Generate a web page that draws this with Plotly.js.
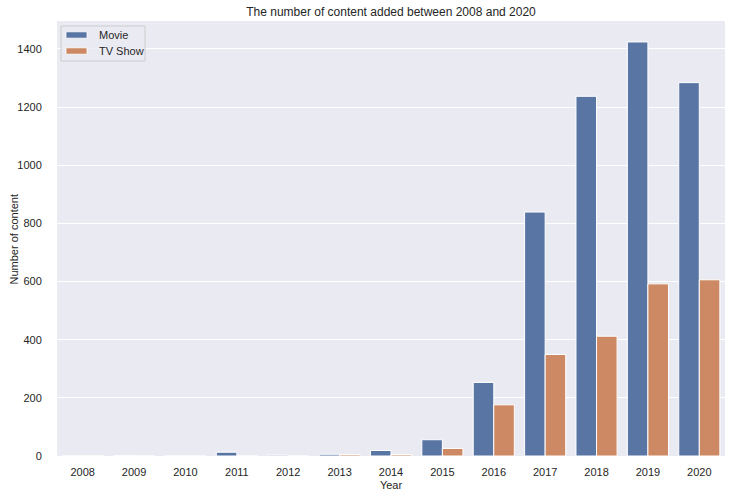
<!DOCTYPE html>
<html>
<head>
<meta charset="utf-8">
<script src="https://cdn.plot.ly/plotly-3.0.1.min.js"></script>
<style>html,body{margin:0;padding:0;background:#fff;}</style>
</head>
<body>
<div id="chart" style="width:732px;height:496px;"></div>
<script>
const years = ["2008","2009","2010","2011","2012","2013","2014","2015","2016","2017","2018","2019","2020"];
const movieCounts = [1, 2, 1, 13, 3, 6, 19, 56, 253, 839, 1237, 1424, 1284];
const tvCounts = [1, 0, 0, 0, 0, 5, 5, 26, 176, 349, 412, 592, 606];
const yTicks = [0, 200, 400, 600, 800, 1000, 1200, 1400];
const seriesNames = ["Movie", "TV Show"];
const seriesColors = ["#5975A4", "#CC8963"];

const font = "Liberation Sans, Arial, sans-serif";
const W = 732, H = 496;
const M = {l: 57, r: 7, t: 21, b: 40};
const PW = W - M.l - M.r, PH = H - M.t - M.b;
const fx = px => (px - M.l) / PW;
const fy = py => 1 - (py - M.t) / PH;

const traces = [
  {type: "bar", name: seriesNames[0], x: years, y: movieCounts,
   marker: {color: seriesColors[0], line: {color: "#ffffff", width: 1}}},
  {type: "bar", name: seriesNames[1], x: years, y: tvCounts,
   marker: {color: seriesColors[1], line: {color: "#ffffff", width: 1}}}
];

// custom legend (matplotlib-style rectangular patches)
const shapes = [
  {type: "rect", xref: "paper", yref: "paper", x0: fx(61), x1: fx(145), y0: fy(26), y1: fy(61),
   fillcolor: "rgba(234,234,242,0.8)", line: {color: "#CCCCCC", width: 1}, layer: "above"}
];
const annotations = [
  {xref: "paper", yref: "paper", x: fx(13), y: 0.5, xanchor: "center", yanchor: "middle",
   textangle: -90, text: "Number of content", showarrow: false,
   font: {family: font, size: 11, color: "#262626"}}
];
seriesNames.forEach((name, i) => {
  const cy = 35 + i * 16;
  shapes.push({type: "rect", xref: "paper", yref: "paper",
    x0: fx(66), x1: fx(87), y0: fy(cy - 3.2), y1: fy(cy + 3.2),
    fillcolor: seriesColors[i], line: {color: "#ffffff", width: 0.8}, layer: "above"});
  annotations.push({xref: "paper", yref: "paper", x: fx(97), y: fy(cy), xanchor: "left", yanchor: "middle",
    text: name, showarrow: false, font: {family: font, size: 11, color: "#262626"}});
});

const layout = {
  width: W, height: H,
  margin: M,
  paper_bgcolor: "#ffffff",
  plot_bgcolor: "#EAEAF2",
  font: {family: font, size: 11, color: "#262626"},
  title: {text: "The number of content added between 2008 and 2020",
          font: {family: font, size: 12, color: "#262626"},
          x: 0.5, xanchor: "center", xref: "paper", y: 0.976, yanchor: "middle"},
  barmode: "group", bargap: 0.2, bargroupgap: 0,
  xaxis: {type: "category", showgrid: false, zeroline: false,
          ticks: "outside", ticklen: 6, tickcolor: "rgba(0,0,0,0)",
          tickfont: {size: 11, color: "#262626"}, showline: false,
          title: {text: "Year", font: {size: 11, color: "#262626"}, standoff: 4}},
  yaxis: {range: [0, 1496], tickvals: yTicks, showgrid: true, gridcolor: "#ffffff",
          gridwidth: 1, zeroline: false,
          ticks: "outside", ticklen: 12, tickcolor: "rgba(0,0,0,0)", showline: false,
          tickfont: {size: 11, color: "#262626"}},
  shapes: shapes,
  annotations: annotations,
  showlegend: false
};
Plotly.newPlot("chart", traces, layout, {displayModeBar: false, staticPlot: true});
</script>
</body>
</html>
